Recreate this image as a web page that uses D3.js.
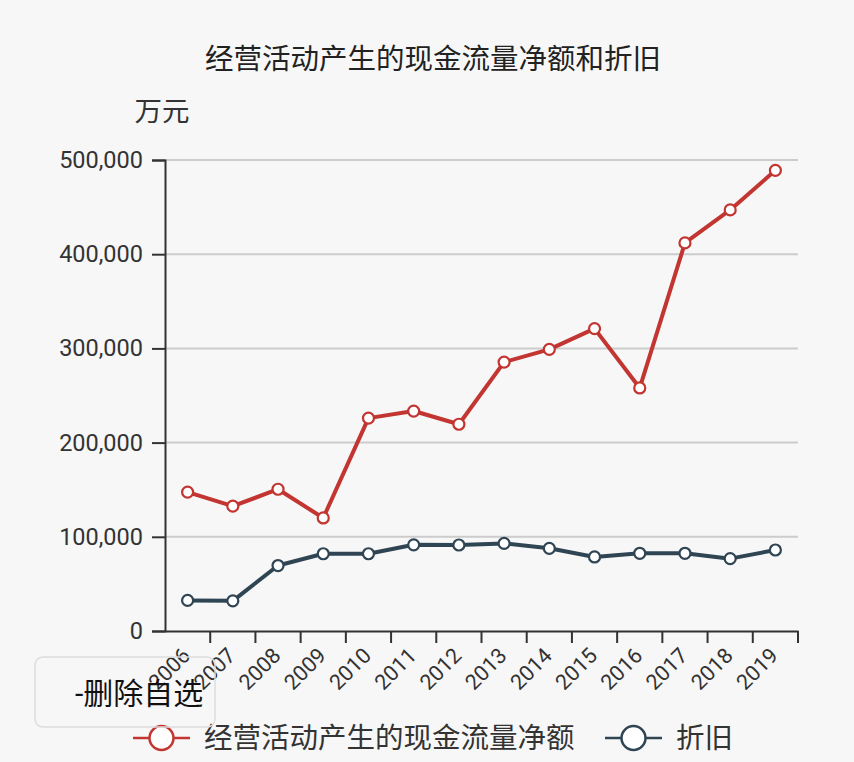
<!DOCTYPE html>
<html>
<head>
<meta charset="utf-8">
<script src="https://cdn.jsdelivr.net/npm/d3@7"></script>
<style>
  html, body { margin: 0; padding: 0; background: #f7f7f7; }
  svg { display: block; font-family: Roboto, "Noto Sans CJK SC", sans-serif; }
</style>
</head>
<body>
<div id="chart"></div>
<script>
// data
const years = ["2006", "2007", "2008", "2009", "2010", "2011", "2012",
  "2013", "2014", "2015", "2016", "2017", "2018", "2019"];
const cashFlow = [147500, 132500, 150500, 120000, 226000, 233500, 219500,
  285500, 299000, 321000, 258000, 412000, 447000, 489000];
const depreciation = [32500, 32000, 69500, 82000, 82000, 91500, 91300,
  93000, 87800, 78600, 82500, 82500, 76800, 86000];
const yTicks = [0, 100000, 200000, 300000, 400000, 500000];
const seriesNames = ["经营活动产生的现金流量净额", "折旧"];
const colors = ["#c23531", "#2f4554"];

const width = 854, height = 762;
const margin = {top: 160, right: 56, bottom: 131, left: 165};

const svg = d3.select("#chart")
  .append("svg")
  .attr("width", width)
  .attr("height", height)
  .attr("viewBox", `0 0 ${width} ${height}`);

svg.append("rect").attr("width", width).attr("height", height).attr("fill", "#f7f7f7");

const xScale = d3.scaleBand()
  .domain(years)
  .range([margin.left, width - margin.right]);

const yScale = d3.scaleLinear()
  .domain([0, 500000])
  .range([height - margin.bottom, margin.top]);

// title + unit
svg.append("text")
  .attr("x", 433).attr("y", 69)
  .attr("text-anchor", "middle")
  .attr("font-size", 28.5)
  .attr("fill", "#222")
  .text("经营活动产生的现金流量净额和折旧");

svg.append("text")
  .attr("x", 162).attr("y", 121)
  .attr("text-anchor", "middle")
  .attr("font-size", 27.5)
  .attr("fill", "#333")
  .text("万元");

// grid lines
svg.append("g")
  .selectAll("line")
  .data(yTicks.filter(t => t > 0))
  .join("line")
    .attr("x1", margin.left).attr("x2", width - margin.right)
    .attr("y1", d => yScale(d)).attr("y2", d => yScale(d))
    .attr("stroke", "#ccc")
    .attr("stroke-width", 2);

// y axis
const yAxis = svg.append("g")
  .attr("transform", `translate(${margin.left},0)`)
  .call(d3.axisLeft(yScale).tickValues(yTicks).tickSize(13).tickPadding(9)
    .tickFormat(d3.format(",")));
yAxis.select(".domain").attr("stroke", "#333").attr("stroke-width", 2);
yAxis.selectAll(".tick line").attr("stroke", "#333").attr("stroke-width", 2);
yAxis.selectAll("text")
  .attr("font-size", 23.5)
  .attr("fill", "#333")
  .attr("font-family", "Roboto, sans-serif");

// x axis
const xAxis = svg.append("g")
  .attr("transform", `translate(0,${height - margin.bottom})`)
  .call(d3.axisBottom(xScale).tickSize(0).tickFormat(""));
xAxis.select(".domain").attr("stroke", "#333").attr("stroke-width", 2);

// ticks on band boundaries
const bounds = years.map(y => xScale(y) + xScale.bandwidth());
xAxis.append("g")
  .selectAll("line")
  .data(bounds)
  .join("line")
    .attr("x1", d => d).attr("x2", d => d)
    .attr("y1", 0).attr("y2", 12)
    .attr("stroke", "#333")
    .attr("stroke-width", 2);

xAxis.append("g")
  .selectAll("text")
  .data(years)
  .join("text")
    .attr("transform", d => `translate(${xScale(d) + xScale.bandwidth() / 2 + 4},${26}) rotate(-45)`)
    .attr("text-anchor", "end")
    .attr("font-size", 21.5)
    .attr("fill", "#333")
    .attr("font-family", "Roboto, sans-serif")
    .text(d => d);

// lines + points
const lineGen = d3.line()
  .x((d, i) => xScale(years[i]) + xScale.bandwidth() / 2)
  .y(d => yScale(d));

[cashFlow, depreciation].forEach((series, s) => {
  const g = svg.append("g");
  g.append("path")
    .datum(series)
    .attr("d", lineGen)
    .attr("fill", "none")
    .attr("stroke", colors[s])
    .attr("stroke-width", 4)
    .attr("stroke-linejoin", "round");
  g.selectAll("circle")
    .data(series)
    .join("circle")
      .attr("cx", (d, i) => xScale(years[i]) + xScale.bandwidth() / 2)
      .attr("cy", d => yScale(d))
      .attr("r", 5.5)
      .attr("fill", "#fff")
      .attr("stroke", colors[s])
      .attr("stroke-width", 2.2);
});

// legend
const legendItems = [
  {name: seriesNames[0], color: colors[0], x: 133},
  {name: seriesNames[1], color: colors[1], x: 605}
];
legendItems.forEach(item => {
  const lg = svg.append("g").attr("transform", `translate(${item.x},738)`);
  lg.append("line")
    .attr("x1", 0).attr("x2", 57)
    .attr("stroke", item.color).attr("stroke-width", 2.5);
  lg.append("circle")
    .attr("cx", 28.5).attr("r", 12)
    .attr("fill", "#fff")
    .attr("stroke", item.color).attr("stroke-width", 2.5);
  lg.append("text")
    .attr("x", 71).attr("y", 10)
    .attr("font-size", 28.5)
    .attr("fill", "#333")
    .text(item.name);
});

// the "remove from favourites" button floating over the chart
svg.append("rect")
  .attr("x", 35).attr("y", 657)
  .attr("width", 180).attr("height", 70)
  .attr("rx", 8)
  .attr("fill", "none")
  .attr("stroke", "#ddd")
  .attr("stroke-width", 1.5);
svg.append("text")
  .attr("x", 75).attr("y", 704)
  .attr("font-size", 30)
  .attr("fill", "#111")
  .text("-删除自选");
</script>
</body>
</html>
